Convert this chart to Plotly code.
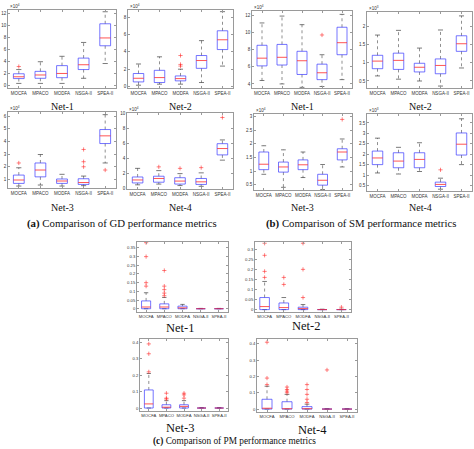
import plotly.graph_objects as go

W, H = 474, 449

algos = ["MOCFA", "MPACO", "MODFA", "NSGA-II", "SPEA-II"]

# box statistics: lower whisker, q1, median, q3, upper whisker, outliers
gd_net1 = dict(lo=[0.4, 0.4, 0.4, 1.25, 3.7], q1=[1.2, 1.25, 1.35, 2.7, 6.65],
               med=[1.5, 1.8, 2.05, 3.5, 7.95], q3=[2.0, 2.4, 3.35, 4.6, 10.3],
               hi=[2.7, 4.0, 4.9, 7.2, 12.3], out=[[3.2], [], [], [], []])
gd_net2 = dict(lo=[0.15, 0.27, 0.27, 0.46, 2.36], q1=[0.53, 0.46, 0.65, 2.1, 4.27],
               med=[0.95, 1.03, 0.91, 3.0, 5.4], q3=[1.5, 1.87, 1.22, 3.58, 6.44],
               hi=[2.6, 3.43, 2.0, 5.3, 8.65], out=[[], [], [2.36, 2.55, 3.58], [], []])
gd_net3 = dict(lo=[0.47, 0.55, 0.47, 0.5, 2.3], q1=[0.68, 1.2, 0.68, 0.6, 3.84],
               med=[0.95, 1.74, 0.87, 0.75, 4.45], q3=[1.34, 2.3, 1.03, 1.05, 4.95],
               hi=[1.92, 2.97, 1.4, 1.26, 6.13], out=[[2.3], [], [], [2.0, 2.4, 3.37], [1.74]])
gd_net4 = dict(lo=[0.5, 0.6, 0.4, 0.3, 3.8], q1=[0.75, 0.85, 0.6, 0.55, 4.5],
               med=[1.15, 1.35, 1.0, 0.9, 5.35], q3=[1.55, 1.65, 1.45, 1.35, 6.0],
               hi=[2.7, 2.4, 2.0, 2.1, 6.5], out=[[], [2.9], [2.7], [2.8], [9.5]])

sm_net1 = dict(lo=[4.4, 4.0, 3.6, 3.7, 4.5], q1=[6.1, 6.2, 5.1, 4.5, 7.4],
               med=[7.0, 7.1, 6.7, 5.3, 8.8], q3=[8.5, 8.6, 7.8, 6.3, 10.6],
               hi=[11.1, 11.9, 10.9, 7.4, 12.1], out=[[], [], [], [9.7], []])
sm_net2 = dict(lo=[0.64, 0.55, 0.5, 0.36, 0.86], q1=[0.84, 0.82, 0.75, 0.7, 1.32],
               med=[1.05, 1.07, 0.88, 0.93, 1.53], q3=[1.21, 1.27, 0.99, 1.11, 1.75],
               hi=[1.77, 1.9, 1.41, 1.91, 2.3], out=[[], [], [], [], []])
sm_net3 = dict(lo=[0.88, 0.4, 0.76, 0.32, 1.15], q1=[1.05, 0.96, 1.05, 0.48, 1.41],
               med=[1.25, 1.15, 1.23, 0.66, 1.7], q3=[1.7, 1.33, 1.41, 0.88, 1.82],
               hi=[1.93, 1.78, 1.7, 1.24, 2.18], out=[[], [], [], [], [2.9]])
sm_net4 = dict(lo=[1.1, 1.05, 1.17, 0.32, 1.5], q1=[1.5, 1.35, 1.35, 0.45, 1.96],
               med=[1.82, 1.67, 1.75, 0.55, 2.48], q3=[2.15, 2.07, 2.07, 0.66, 3.02],
               hi=[2.77, 2.33, 2.55, 0.85, 3.7], out=[[], [], [], [1.25], []])

pm_net1 = dict(lo=[0, 0, 0, 0, 0], q1=[0, 0, 0, 0, 0],
               med=[0.01, 0.01, 0.005, 0, 0], q3=[0.045, 0.028, 0.015, 0.001, 0.001],
               hi=[0.092, 0.065, 0.025, 0.002, 0.002],
               out=[[0.13, 0.15, 0.3, 0.38], [0.075, 0.09, 0.11, 0.13, 0.22], [], [], []])
pm_net2 = dict(lo=[0, 0, 0, 0, 0], q1=[0, 0, 0, 0, 0],
               med=[0.015, 0.01, 0.005, 0, 0], q3=[0.06, 0.033, 0.012, 0.001, 0.001],
               hi=[0.14, 0.06, 0.025, 0.002, 0.002],
               out=[[0.16, 0.19, 0.27, 0.33], [0.125, 0.16], [0.06, 0.2, 0.33], [], [0.012]])
pm_net3 = dict(lo=[0, 0, 0, 0, 0], q1=[0, 0, 0, 0, 0],
               med=[0.025, 0.005, 0.01, 0, 0], q3=[0.11, 0.02, 0.02, 0.001, 0.001],
               hi=[0.21, 0.045, 0.045, 0.002, 0.002],
               out=[[0.22, 0.33, 0.39], [0.055, 0.06, 0.09], [0.06, 0.08, 0.09], [], []])
pm_net4 = dict(lo=[0, 0, 0, 0, 0], q1=[0, 0, 0, 0, 0],
               med=[0.005, 0.002, 0.002, 0, 0], q3=[0.06, 0.045, 0.015, 0.001, 0.001],
               hi=[0.14, 0.09, 0.03, 0.002, 0.002],
               out=[[0.15, 0.19, 0.41], [0.1, 0.11, 0.12, 0.135],
                    [0.04, 0.06, 0.09, 0.12, 0.15], [0.24], []])

# panel: stats, pixel box (x0, x1, y0, y1), y range, dtick, exponent label
panels = [
    (gd_net1, (8, 116, 8, 87), [-0.4, 12.6], 2, "4"),
    (gd_net2, (128, 233, 8, 87), [-0.2, 8.85], 2, "4"),
    (gd_net3, (8, 116, 111, 188), [0.29, 6.34], 1, "4"),
    (gd_net4, (127, 233, 112, 189), [-0.1, 10.1], 2, "4"),
    (sm_net1, (252, 352, 9, 87), [3.5, 12.5], 2, "4"),
    (sm_net2, (367, 472, 10, 87), [0.3, 2.41], 0.5, "3"),
    (sm_net3, (254, 352, 113, 190), [0.29, 3.1], 0.5, "4"),
    (sm_net4, (367, 472, 113, 191), [0.22, 3.93], 0.5, "3"),
    (pm_net1, (137, 228, 242, 313), [-0.02, 0.385], 0.05, None),
    (pm_net2, (255, 351, 242, 313), [-0.013, 0.337], 0.05, None),
    (pm_net3, (140, 228, 340, 413), [-0.02, 0.42], 0.1, None),
    (pm_net4, (257, 357, 340, 414), [-0.02, 0.43], 0.1, None),
]

BOX_C = "#3a3aff"
MED_C = "#ff2a2a"
WHISK_C = "#444444"
HW = 0.25   # half box width
CW = 0.12   # half cap width

fig = go.Figure()
annotations = []

for i, (st, (px0, px1, py0, py1), yr, dt, expo) in enumerate(panels):
    n = i + 1
    xa = "x" if n == 1 else f"x{n}"
    ya = "y" if n == 1 else f"y{n}"

    bx, by, mx, my, wx, wy, cx, cy, ox, oy = ([] for _ in range(10))
    for k in range(len(algos)):
        p = k + 1
        lo, q1, md, q3, hi = st["lo"][k], st["q1"][k], st["med"][k], st["q3"][k], st["hi"][k]
        bx += [p - HW, p + HW, p + HW, p - HW, p - HW, None]
        by += [q1, q1, q3, q3, q1, None]
        mx += [p - HW, p + HW, None]
        my += [md, md, None]
        wx += [p, p, None, p, p, None]
        wy += [q3, hi, None, q1, lo, None]
        cx += [p - CW, p + CW, None, p - CW, p + CW, None]
        cy += [hi, hi, None, lo, lo, None]
        for v in st["out"][k]:
            ox.append(p)
            oy.append(v)

    common = dict(xaxis=xa, yaxis=ya, hoverinfo="skip", showlegend=False)
    fig.add_trace(go.Scatter(x=wx, y=wy, mode="lines",
                             line=dict(color=WHISK_C, width=0.6, dash="dot"), **common))
    fig.add_trace(go.Scatter(x=cx, y=cy, mode="lines",
                             line=dict(color="#222222", width=0.6), **common))
    fig.add_trace(go.Scatter(x=bx, y=by, mode="lines",
                             line=dict(color=BOX_C, width=0.7), **common))
    fig.add_trace(go.Scatter(x=mx, y=my, mode="lines",
                             line=dict(color=MED_C, width=0.8), **common))
    fig.add_trace(go.Scatter(x=ox, y=oy, mode="markers",
                             marker=dict(symbol="cross-thin", size=3,
                                         line=dict(color=MED_C, width=0.6)), **common))

    fs = 4.5 if n <= 8 else 4.2
    ax_common = dict(showline=True, mirror="ticks", linecolor="#9a9a9a", linewidth=0.8,
                     ticks="inside", ticklen=2, tickcolor="#9a9a9a", showgrid=False,
                     zeroline=False, tickfont=dict(size=fs, color="#333333",
                                                   family="Liberation Sans"))
    fig.update_layout(**{
        ("xaxis" if n == 1 else f"xaxis{n}"): dict(
            domain=[px0 / W, px1 / W], anchor=ya, range=[0.5, 5.5], tickangle=0,
            tickvals=[1, 2, 3, 4, 5], ticktext=algos, **ax_common),
        ("yaxis" if n == 1 else f"yaxis{n}"): dict(
            domain=[1 - py1 / H, 1 - py0 / H], anchor=xa, range=yr, dtick=dt,
            tick0=0, **ax_common),
    })
    if expo:
        annotations.append(dict(x=px0 / W, y=1 - py0 / H, xref="paper", yref="paper",
                                text=f"×10<sup>{expo}</sup>", showarrow=False,
                                xanchor="left", yanchor="bottom", yshift=-1,
                                font=dict(size=4.5, color="#333333", family="Liberation Sans")))

labels = [
    ("Net-1", 62, 105, 10), ("Net-2", 180, 105, 10), ("Net-1", 302, 105, 10), ("Net-2", 420, 105, 10),
    ("Net-3", 62, 207, 10), ("Net-4", 180, 207, 10), ("Net-3", 302, 207, 10), ("Net-4", 420, 207, 10),
    ("Net-1", 180, 329, 12.5), ("Net-2", 306, 327, 12.5), ("Net-3", 180, 430, 12.5), ("Net-4", 312, 432, 12.5),
    ("<b>(a)</b> Comparison of GD performance metrics", 122, 223, 10.8),
    ("<b>(b)</b> Comparison of SM performance metrics", 361, 223, 10.8),
    ("<b>(c)</b> Comparison of PM performance metrics", 234, 443, 9.3),
]
for txt, lx, ly, fs in labels:
    annotations.append(dict(x=lx / W, y=1 - ly / H, xref="paper", yref="paper", text=txt,
                            showarrow=False, xanchor="center", yanchor="middle",
                            font=dict(size=fs, color="#111111", family="Liberation Serif")))

fig.update_layout(width=W, height=H, margin=dict(l=0, r=0, t=0, b=0),
                  paper_bgcolor="white", plot_bgcolor="white",
                  showlegend=False, annotations=annotations)

# drop the page's default body margin so the figure sits at the window's corner
fig.write_html("out.html", config={"displayModeBar": False},
               post_script="document.body.style.margin='0';"
                           "document.body.style.overflow='hidden';")
